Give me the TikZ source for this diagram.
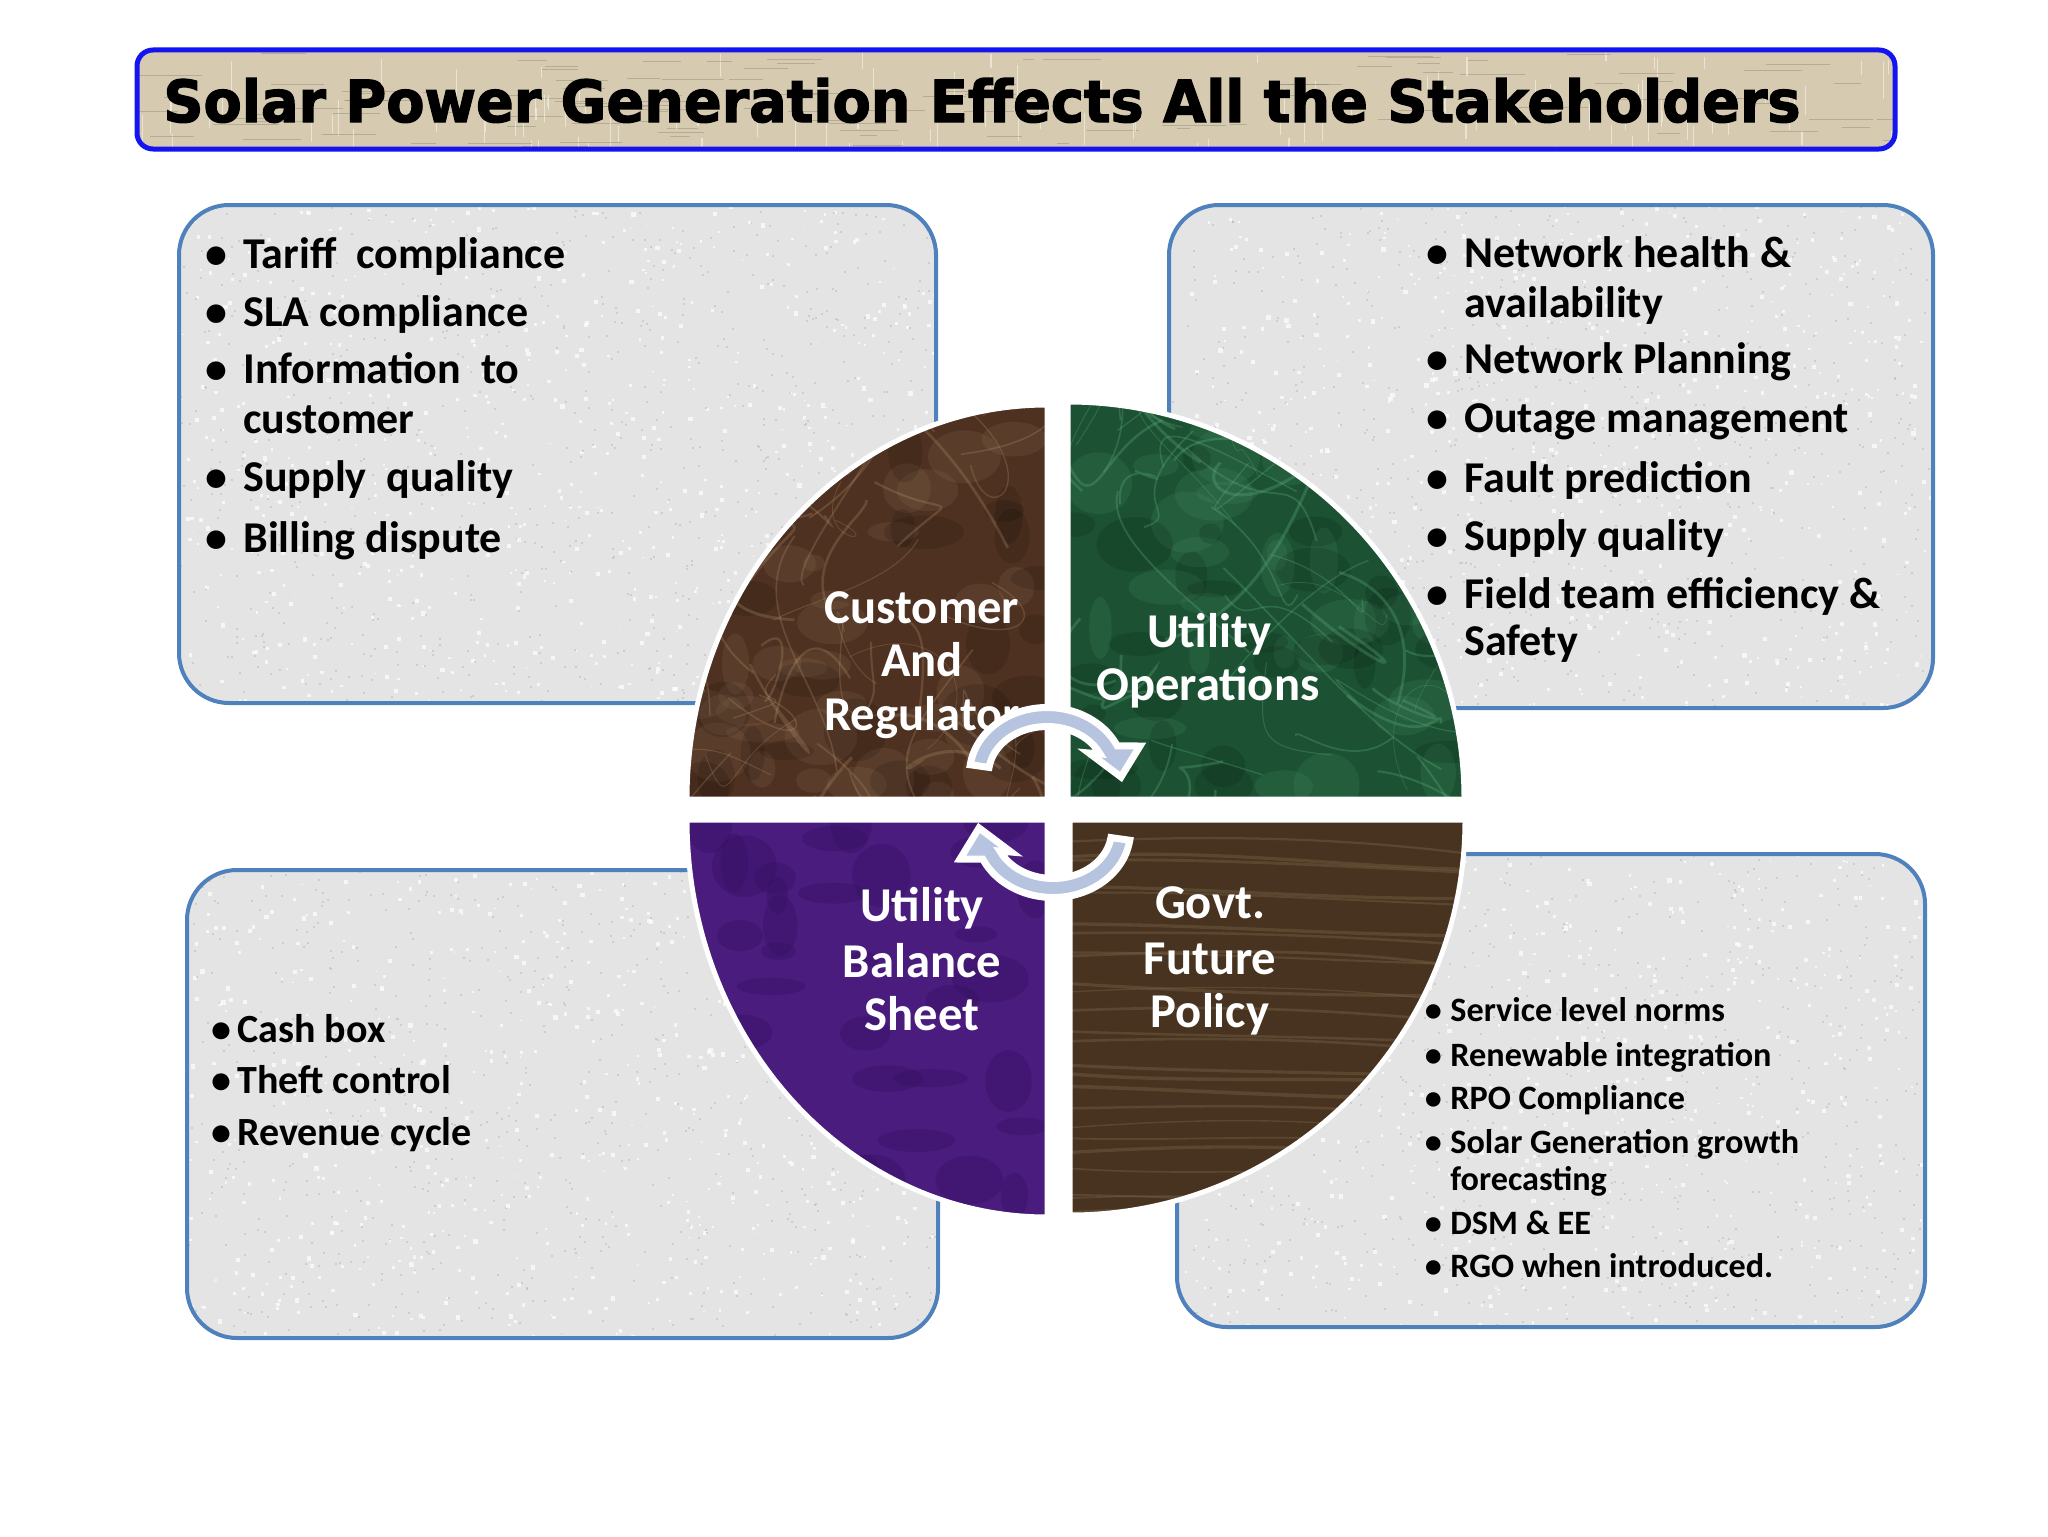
\documentclass[tikz,border=0pt]{standalone}
\usepackage{graphicx}
\usepackage{fontspec}
\setmainfont{Carlito}
\newfontfamily\titlefont{DejaVu Sans Bold}[FakeBold=2.2]
\usetikzlibrary{calc}
\definecolor{boxblue}{HTML}{4F81BD}
\definecolor{boxfill}{HTML}{E4E4E4}
\definecolor{titleblue}{HTML}{1414F0}
\definecolor{titlefill}{HTML}{D6CBB1}
\definecolor{qbrown}{HTML}{4E3120}
\definecolor{veinbrown}{HTML}{B0906E}
\definecolor{qgreen}{HTML}{1C5233}
\definecolor{veingreen}{HTML}{5FAE7E}
\definecolor{qpurple}{HTML}{4A1C7E}
\definecolor{veinpurple}{HTML}{2E0C55}
\definecolor{qwood}{HTML}{47331F}
\definecolor{veinwood}{HTML}{7A634A}
\definecolor{arrowfill}{HTML}{B6C4DF}
\newcommand{\bulA}{\llap{\makebox[0pt][c]{\textbullet}\hspace{13.5pt}}}
\newcommand{\bulB}{\llap{\makebox[0pt][c]{\textbullet}\hspace{8pt}}}
\newcommand{\bulC}{\llap{\makebox[0pt][c]{\textbullet}\hspace{8.5pt}}}
% random vein texture: x0 y0 w h colour count opacity
\newcommand{\veins}[7]{%
  \foreach \vi in {1,...,#6}{%
    \pgfmathsetmacro\xa{#1+#3*rnd}\pgfmathsetmacro\ya{#2+#4*rnd}%
    \pgfmathsetmacro\xb{\xa+90*rand}\pgfmathsetmacro\yb{\ya+90*rand}%
    \pgfmathsetmacro\xc{\xb+90*rand}\pgfmathsetmacro\yc{\yb+90*rand}%
    \pgfmathsetmacro\xd{\xc+90*rand}\pgfmathsetmacro\yd{\yc+90*rand}%
    \pgfmathsetmacro\lw{0.3+1.4*rnd}%
    \draw[#5, line width=\lw pt, opacity=#7] (\xa,\ya) .. controls (\xb,\yb) and (\xc,\yc) .. (\xd,\yd);
  }}
% blotches: x0 y0 w h colour count opacity
\newcommand{\blotches}[7]{%
  \foreach \bi in {1,...,#6}{%
    \pgfmathsetmacro\bx{#1+#3*rnd}\pgfmathsetmacro\by{#2+#4*rnd}%
    \pgfmathsetmacro\br{10+30*rnd}\pgfmathsetmacro\bq{8+25*rnd}%
    \fill[#5, opacity=#7] (\bx,\by) ellipse[x radius=\br, y radius=\bq];
  }}
% speckle texture: x0 y0 w h count
\newcommand{\speckles}[5]{%
  \foreach \si in {1,...,#5}{%
    \pgfmathsetmacro\sx{#1+#3*rnd}\pgfmathsetmacro\sy{#2+#4*rnd}%
    \pgfmathsetmacro\sr{1.5+3*rnd}%
    \fill[white, opacity=0.7] (\sx,\sy) rectangle ++(\sr,\sr);
    \pgfmathsetmacro\tx{#1+#3*rnd}\pgfmathsetmacro\ty{#2+#4*rnd}%
    \fill[black!30, opacity=0.45] (\tx,\ty) rectangle ++(2,2);
  }}
\begin{document}
\begin{tikzpicture}[x=0.5pt,y=-0.5pt,
  infobox/.style={draw=boxblue, line width=2pt, rounded corners=25pt},
  quadline/.style={draw=white, line width=2.5pt},
  toptxt/.style={font=\fontsize{22}{26}\selectfont\bfseries, anchor=base west, inner sep=0pt},
  bltxt/.style={font=\fontsize{20}{24}\selectfont\bfseries, anchor=base west, inner sep=0pt},
  brtxt/.style={font=\fontsize{17.1}{20}\selectfont\bfseries, anchor=base west, inner sep=0pt},
  qlabel/.style={font=\fontsize{24.3}{28}\selectfont\bfseries, text=white, anchor=base, inner sep=0pt},
  circarrow/.pic={
    \filldraw[fill=arrowfill, draw=white, line width=3.5pt, line join=miter]
      (-172:58.5 and 47.5) -- (-172:77.5 and 66.5)
      arc[start angle=-172, end angle=-25, x radius=77.5, y radius=66.5]
      -- (93,-28) -- (74,3) -- (42,-21)
      -- (-25:58.5 and 47.5)
      arc[start angle=-25, end angle=-172, x radius=58.5, y radius=47.5]
      -- cycle;
  }
]
\pgfmathsetseed{1234}
\fill[white] (0,0) rectangle (2048,1536);
\useasboundingbox (0,0) rectangle (2048,1536);

% title
\fill[titlefill, rounded corners=8pt] (137,50) rectangle (1895,149);
\begin{scope}
  \clip (137,50) rectangle (1895,149);
  \foreach \k in {1,...,120}{
    \pgfmathsetmacro\fx{137+1758*rnd}\pgfmathsetmacro\fy{50+99*rnd}
    \draw[white!70!titlefill, line width=0.6pt, opacity=0.7] (\fx,\fy) -- ++(0,30*rnd+8);
    \pgfmathsetmacro\gx{137+1758*rnd}\pgfmathsetmacro\gy{50+99*rnd}
    \draw[black!30!titlefill, line width=0.5pt, opacity=0.5] (\gx,\gy) -- ++(60*rnd+10,0);
  }
\end{scope}
\draw[draw=titleblue, line width=2.5pt, rounded corners=8pt] (137,50) rectangle (1895,149);
\node[anchor=base west, inner sep=0pt] (title) at (163,122)
  {\resizebox{818.5pt}{22pt}{\titlefont Solar Power Generation Effects All the Stakeholders}};

% info boxes
\fill[boxfill, rounded corners=25pt] (179,205) rectangle (936,703);
\fill[boxfill, rounded corners=25pt] (1169,205) rectangle (1933,708);
\fill[boxfill, rounded corners=25pt] (187,870) rectangle (938,1338);
\fill[boxfill, rounded corners=25pt] (1177,854) rectangle (1925,1327);
\begin{scope}
  \clip[rounded corners=25pt] (179,205) rectangle (936,703);
  \speckles{179}{205}{757}{498}{700}
\end{scope}
\begin{scope}
  \clip[rounded corners=25pt] (1169,205) rectangle (1933,708);
  \speckles{1169}{205}{764}{503}{700}
\end{scope}
\begin{scope}
  \clip[rounded corners=25pt] (187,870) rectangle (938,1338);
  \speckles{187}{870}{751}{468}{650}
\end{scope}
\begin{scope}
  \clip[rounded corners=25pt] (1177,854) rectangle (1925,1327);
  \speckles{1177}{854}{748}{473}{650}
\end{scope}
\draw[infobox] (179,205) rectangle (936,703);
\draw[infobox] (1169,205) rectangle (1933,708);
\draw[infobox] (187,870) rectangle (938,1338);
\draw[infobox] (1177,854) rectangle (1925,1327);

% quadrants: fills
\fill[qbrown] (1047,799) -- ++(-360,0) arc[start angle=180, end angle=270, x radius=360, y radius=394] -- cycle;
\fill[qgreen] (1068,799) -- ++(0,-397) arc[start angle=270, end angle=360, x radius=396, y radius=397] -- cycle;
\fill[qpurple] (1047,820) -- ++(-360,0) arc[start angle=180, end angle=90, x radius=360, y radius=397] -- cycle;
\fill[qwood] (1070,820) -- ++(395,0) arc[start angle=0, end angle=90, x radius=395, y radius=395] -- cycle;
% quadrants: textures
\begin{scope}
  \clip (1047,799) -- ++(-360,0) arc[start angle=180, end angle=270, x radius=360, y radius=394] -- cycle;
  \blotches{687}{405}{360}{394}{veinbrown}{40}{0.12}
  \blotches{687}{405}{360}{394}{black}{30}{0.12}
  \veins{687}{405}{360}{394}{veinbrown}{55}{0.28}
\end{scope}
\begin{scope}
  \clip (1068,799) -- ++(0,-397) arc[start angle=270, end angle=360, x radius=396, y radius=397] -- cycle;
  \blotches{1068}{402}{396}{397}{veingreen}{35}{0.12}
  \blotches{1068}{402}{396}{397}{black}{30}{0.12}
  \veins{1068}{402}{396}{397}{veingreen}{55}{0.3}
\end{scope}
\begin{scope}
  \clip (1047,820) -- ++(-360,0) arc[start angle=180, end angle=90, x radius=360, y radius=397] -- cycle;
  \blotches{687}{820}{360}{397}{veinpurple}{40}{0.25}
\end{scope}
\begin{scope}
  \clip (1070,820) -- ++(395,0) arc[start angle=0, end angle=90, x radius=395, y radius=395] -- cycle;
  \foreach \w in {1,...,26}{
    \pgfmathsetmacro\wy{820+16*\w+8*rand}
    \pgfmathsetmacro\wa{14*rand}\pgfmathsetmacro\wb{14*rand}
    \pgfmathsetmacro\wl{0.5+1.5*rnd}
    \draw[veinwood, line width=\wl pt, opacity=0.4] (1060,\wy) .. controls (1200,\wy+\wa) and (1330,\wy+\wb) .. (1470,\wy+12);
  }
\end{scope}
% quadrants: white outlines
\draw[quadline] (1047,799) -- ++(-360,0) arc[start angle=180, end angle=270, x radius=360, y radius=394] -- cycle;
\draw[quadline] (1068,799) -- ++(0,-397) arc[start angle=270, end angle=360, x radius=396, y radius=397] -- cycle;
\draw[quadline] (1047,820) -- ++(-360,0) arc[start angle=180, end angle=90, x radius=360, y radius=397] -- cycle;
\draw[quadline] (1070,820) -- ++(395,0) arc[start angle=0, end angle=90, x radius=395, y radius=395] -- cycle;

% top-left list
\node[toptxt] (tl1) at (243,268) {\bulA Tariff\ \ compliance};
\node[toptxt] (tl2) at (243,326) {\bulA SLA compliance};
\node[toptxt] (tl3) at (243,383) {\bulA Information\ \ to};
\node[toptxt] (tl4) at (243,433) {customer};
\node[toptxt] (tl5) at (243,491) {\bulA Supply\ \ quality};
\node[toptxt] (tl6) at (243,552) {\bulA Billing dispute};

% top-right list
\node[toptxt] (tr1) at (1464,267) {\bulA Network health \&};
\node[toptxt] (tr2) at (1464,317) {availability};
\node[toptxt] (tr3) at (1464,373) {\bulA Network Planning};
\node[toptxt] (tr4) at (1464,432) {\bulA Outage management};
\node[toptxt] (tr5) at (1464,492) {\bulA Fault prediction};
\node[toptxt] (tr6) at (1464,550) {\bulA Supply quality};
\node[toptxt] (tr7) at (1464,608) {\bulA Field team efficiency \&};
\node[toptxt] (tr8) at (1464,655) {Safety};

% bottom-left list
\node[bltxt] (bl1) at (237,1042) {\bulB Cash box};
\node[bltxt] (bl2) at (237,1093) {\bulB Theft control};
\node[bltxt] (bl3) at (237,1145) {\bulB Revenue cycle};

% bottom-right list
\node[brtxt] (br1) at (1450,1021) {\bulC Service level norms};
\node[brtxt] (br2) at (1450,1066) {\bulC Renewable integration};
\node[brtxt] (br3) at (1450,1109) {\bulC RPO Compliance};
\node[brtxt] (br4) at (1450,1153) {\bulC Solar Generation growth};
\node[brtxt] (br5) at (1450,1190) {forecasting};
\node[brtxt] (br6) at (1450,1234) {\bulC DSM \& EE};
\node[brtxt] (br7) at (1450,1277) {\bulC RGO when introduced.};

% quadrant labels
\node[qlabel] (c1) at (922,623) {Customer};
\node[qlabel] (c2) at (922,676) {And};
\node[qlabel] (c3) at (922,730) {Regulator};
\node[qlabel] (o1) at (1209,647) {Utility};
\node[qlabel] (o2) at (1208,700) {Operations};
\node[qlabel] (b1) at (922,921) {Utility};
\node[qlabel] (b2) at (922,977) {Balance};
\node[qlabel] (b3) at (922,1030) {Sheet};
\node[qlabel] (g1) at (1210,918) {Govt.};
\node[qlabel] (g2) at (1210,974) {Future};
\node[qlabel] (g3) at (1210,1027) {Policy};

% circular arrows
\pic at (1047,774) {circarrow};
\pic[rotate=180] at (1053,831) {circarrow};
\end{tikzpicture}
\end{document}
